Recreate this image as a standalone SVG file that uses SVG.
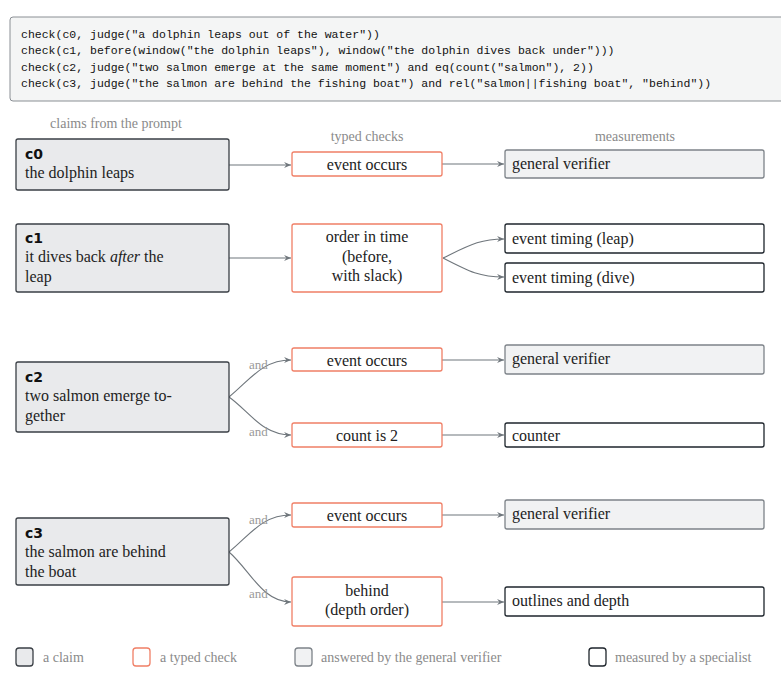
<svg xmlns="http://www.w3.org/2000/svg" width="781" height="685" viewBox="0 0 781 685">
<style>
.t{font-family:"Liberation Serif",serif;font-size:16px;fill:#222}
.h{font-family:"Liberation Serif",serif;font-size:14px;fill:#8a8a8a}
.code{font-family:"Liberation Mono",monospace;font-size:11.5px;fill:#111}
.id{font-family:"DejaVu Sans",sans-serif;font-weight:bold;font-size:14px;fill:#111}
.claim{fill:#e9eaec;stroke:#3a3f45;stroke-width:1.3}
.chk{fill:#fff;stroke:#f07f66;stroke-width:1.3}
.gen{fill:#f1f2f3;stroke:#7d8389;stroke-width:1.3}
.spec{fill:#fff;stroke:#1e252c;stroke-width:1.3}
.e{fill:none;stroke:#6f767c;stroke-width:1.1;marker-end:url(#a)}
.and{font-family:"Liberation Serif",serif;font-size:13px;fill:#999}
</style>
<defs><marker id="a" viewBox="0 0 10 10" refX="9" refY="5" markerWidth="7" markerHeight="7" orient="auto"><path d="M0,1 L9,5 L0,9 L3,5z" fill="#6f767c"/></marker></defs>
<rect x="10" y="17" width="790" height="84" rx="3" fill="#f4f5f5" stroke="#8a8f94"/>
<text class="code" x="21" y="38">check(c0, judge("a dolphin leaps out of the water"))</text>
<text class="code" x="21" y="54">check(c1, before(window("the dolphin leaps"), window("the dolphin dives back under")))</text>
<text class="code" x="21" y="71">check(c2, judge("two salmon emerge at the same moment") and eq(count("salmon"), 2))</text>
<text class="code" x="21" y="87">check(c3, judge("the salmon are behind the fishing boat") and rel("salmon||fishing boat", "behind"))</text>
<text class="h" x="116" y="128" text-anchor="middle">claims from the prompt</text>
<text class="h" x="367" y="141" text-anchor="middle">typed checks</text>
<text class="h" x="635" y="141" text-anchor="middle">measurements</text>
<g id="connectors">
<path class="e" d="M229,165 H291"/><path class="e" d="M442,164 H504"/>
<path class="e" d="M229,258 H291"/>
<path class="e" d="M443,258 C470,245 480,239 504,239"/><path class="e" d="M443,258 C470,272 480,277 504,277"/>
<path class="e" d="M229,397 C250,380 262,360 291,360"/><path class="e" d="M229,397 C250,412 262,435 291,435"/>
<path class="e" d="M442,360 H504"/><path class="e" d="M442,435 H504"/>
<path class="e" d="M229,552 C250,535 262,515 291,515"/><path class="e" d="M229,552 C250,570 262,602 291,602"/>
<path class="e" d="M442,515 H504"/><path class="e" d="M442,602 H504"/>
<text class="and" x="249" y="369">and</text><text class="and" x="249" y="436">and</text>
<text class="and" x="249" y="524">and</text><text class="and" x="249" y="598">and</text>
</g>
<g id="c0"><rect class="claim" x="16" y="139" width="213" height="51" rx="2"/><text class="id" x="25" y="159">c0</text><text class="t" x="25" y="178">the dolphin leaps</text></g>
<g id="c1"><rect class="claim" x="16" y="224" width="213" height="68" rx="2"/><text class="id" x="25" y="243">c1</text><text class="t" x="25" y="262">it dives back <tspan font-style="italic">after</tspan> the</text><text class="t" x="25" y="282">leap</text></g>
<g id="c2"><rect class="claim" x="16" y="362" width="213" height="70" rx="2"/><text class="id" x="25" y="382">c2</text><text class="t" x="25" y="401">two salmon emerge to-</text><text class="t" x="25" y="421">gether</text></g>
<g id="c3"><rect class="claim" x="16" y="518" width="213" height="67" rx="2"/><text class="id" x="25" y="538">c3</text><text class="t" x="25" y="557">the salmon are behind</text><text class="t" x="25" y="577">the boat</text></g>
<g id="k0"><rect class="chk" x="292" y="152" width="150" height="24" rx="2"/><text class="t" x="367" y="170" text-anchor="middle">event occurs</text></g>
<g id="k1"><rect class="chk" x="292" y="224" width="150" height="68" rx="2"/><text class="t" x="367" y="242" text-anchor="middle">order in time</text><text class="t" x="367" y="262" text-anchor="middle">(before,</text><text class="t" x="367" y="281" text-anchor="middle">with slack)</text></g>
<g id="k2a"><rect class="chk" x="292" y="348" width="150" height="23" rx="2"/><text class="t" x="367" y="366" text-anchor="middle">event occurs</text></g>
<g id="k2b"><rect class="chk" x="292" y="423" width="150" height="24" rx="2"/><text class="t" x="367" y="441" text-anchor="middle">count is 2</text></g>
<g id="k3a"><rect class="chk" x="292" y="503" width="150" height="24" rx="2"/><text class="t" x="367" y="521" text-anchor="middle">event occurs</text></g>
<g id="k3b"><rect class="chk" x="292" y="577" width="150" height="49" rx="2"/><text class="t" x="367" y="596" text-anchor="middle">behind</text><text class="t" x="367" y="615" text-anchor="middle">(depth order)</text></g>
<g id="m0"><rect class="gen" x="505" y="150" width="259" height="28" rx="2"/><text class="t" x="512" y="169">general verifier</text></g>
<g id="m1a"><rect class="spec" x="505" y="224" width="259" height="29" rx="2"/><text class="t" x="512" y="244">event timing (leap)</text></g>
<g id="m1b"><rect class="spec" x="505" y="263" width="259" height="29" rx="2"/><text class="t" x="512" y="283">event timing (dive)</text></g>
<g id="m2a"><rect class="gen" x="505" y="345" width="259" height="29" rx="2"/><text class="t" x="512" y="364">general verifier</text></g>
<g id="m2b"><rect class="spec" x="505" y="423" width="259" height="24" rx="2"/><text class="t" x="512" y="441">counter</text></g>
<g id="m3a"><rect class="gen" x="505" y="500" width="259" height="29" rx="2"/><text class="t" x="512" y="519">general verifier</text></g>
<g id="m3b"><rect class="spec" x="505" y="587" width="259" height="29" rx="2"/><text class="t" x="512" y="606">outlines and depth</text></g>
<g id="legend">
<rect class="claim" x="16" y="648" width="17" height="18" rx="3"/><text class="h" x="43" y="662">a claim</text>
<rect class="chk" x="133" y="648" width="17" height="18" rx="3"/><text class="h" x="160" y="662">a typed check</text>
<rect class="gen" x="295" y="648" width="17" height="18" rx="3"/><text class="h" x="321" y="662">answered by the general verifier</text>
<rect class="spec" x="589" y="648" width="17" height="18" rx="3"/><text class="h" x="615" y="662">measured by a specialist</text>
</g>
</svg>
